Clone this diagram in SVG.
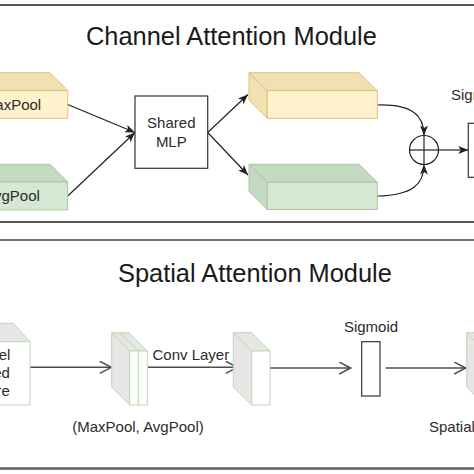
<svg xmlns="http://www.w3.org/2000/svg" width="474" height="474" viewBox="0 0 474 474">
<style>
.title{font-family:"Liberation Sans",Arial,sans-serif;font-size:25.4px;fill:#1a1a1a}
.lbl{font-family:"Liberation Sans",Arial,sans-serif;font-size:15px;fill:#2b2b2b}
.edge{fill:none;stroke:#222;stroke-width:1.2}
.edge2{fill:none;stroke:#4d4d4d;stroke-width:1.5}
.yf{fill:#fff2cc;stroke:#dcc47a;stroke-width:1}
.yd{fill:#f1e0b2;stroke:#dcc47a;stroke-width:1}
.gf{fill:#d5e8d4;stroke:#a9c99c;stroke-width:1}
.gd{fill:#c3d9c1;stroke:#a9c99c;stroke-width:1}
.wf{fill:#ffffff;stroke:#bcd9ae;stroke-width:1}
.wd{fill:#e6e6e6;stroke:#bcd9ae;stroke-width:1}
.box{fill:#ffffff;stroke:#333;stroke-width:1.2}
</style>
<defs>
<marker id="fa" markerUnits="userSpaceOnUse" markerWidth="12" markerHeight="10" refX="10" refY="4" orient="auto">
<path d="M0,0 L10,4 L0,8 L2.5,4 z" fill="#222"/>
</marker>
<marker id="oa" markerUnits="userSpaceOnUse" markerWidth="14" markerHeight="14" refX="12" refY="6.5" orient="auto">
<path d="M0.5,0.5 L12,6.5 L0.5,12.5" fill="none" stroke="#4d4d4d" stroke-width="1.5"/>
</marker>
</defs>
<rect width="474" height="474" fill="#ffffff"/>

<g id="panel-channel">
<rect x="-10" y="5" width="494" height="217" fill="#ffffff" stroke="#555" stroke-width="2"/>
<text class="title" x="86" y="45">Channel Attention Module</text>
</g>
<g id="panel-spatial">
<rect x="-10" y="240" width="494" height="228.5" fill="#ffffff" stroke="#444" stroke-width="1.5"/>
<line x1="-10" y1="468.5" x2="484" y2="468.5" stroke="#666" stroke-width="2.5"/>
<text class="title" x="118" y="281.5">Spatial Attention Module</text>
</g>

<g id="connectors">
<path class="edge" d="M67.7,104.5 L135,132.5" marker-end="url(#fa)"/>
<path class="edge" d="M67.7,196 L135,132.5" marker-end="url(#fa)"/>
<path class="edge" d="M207.7,132.5 L248,94.5" marker-end="url(#fa)"/>
<path class="edge" d="M207.7,132.5 L248,175" marker-end="url(#fa)"/>
<path class="edge" d="M377.3,105 C413,104 424,116 424,135.5" marker-end="url(#fa)"/>
<path class="edge" d="M377.3,196 C413,195 424,184 424,164.5" marker-end="url(#fa)"/>
<path class="edge" d="M438.5,150 L468.3,150" marker-end="url(#fa)"/>
<path class="edge2" d="M30,367.3 L111.3,367.3" marker-end="url(#oa)"/>
<path class="edge2" d="M148,367.3 L237.3,367.3" marker-end="url(#oa)"/>
<path class="edge2" d="M270,368 L350.7,368" marker-end="url(#oa)"/>
<path class="edge2" d="M385.7,368 L465.7,368" marker-end="url(#oa)"/>
</g>

<g id="maxpool">
<polygon class="yd" points="-56,72.7 50,72.7 67.7,90.7 -38,90.7"/>
<rect class="yf" x="-38" y="90.7" width="105.7" height="27.6"/>
<text class="lbl" x="12" y="110" text-anchor="middle">MaxPool</text>
</g>
<g id="avgpool">
<polygon class="gd" points="-56,164.3 50,164.3 67.7,182 -38,182"/>
<rect class="gf" x="-38" y="182" width="105.7" height="28"/>
<text class="lbl" x="12" y="201" text-anchor="middle">AvgPool</text>
</g>

<g id="shared-mlp">
<rect class="box" x="135" y="96" width="72.7" height="72.3"/>
<text class="lbl" x="171.3" y="127.5" text-anchor="middle">Shared</text>
<text class="lbl" x="171.3" y="146.5" text-anchor="middle">MLP</text>
</g>

<g id="mlp-out-max">
<polygon class="yd" points="249,72.7 359,72.7 377.3,90.7 267.3,90.7"/>
<polygon class="yd" points="249,72.7 267.3,90.7 267.3,118.3 249,100.3"/>
<rect class="yf" x="267.3" y="90.7" width="110" height="27.6"/>
</g>
<g id="mlp-out-avg">
<polygon class="gd" points="249,164.3 359,164.3 377.3,182.3 267.3,182.3"/>
<polygon class="gd" points="249,164.3 267.3,182.3 267.3,209.5 249,191.5"/>
<rect class="gf" x="267.3" y="182.3" width="110" height="27.2"/>
</g>

<g id="sum">
<circle cx="424" cy="150" r="14.5" fill="#ffffff" stroke="#222" stroke-width="1.2"/>
<line x1="409.5" y1="150" x2="438.5" y2="150" stroke="#222" stroke-width="1.2"/>
<line x1="424" y1="135.5" x2="424" y2="164.5" stroke="#222" stroke-width="1.2"/>
</g>

<g id="channel-sigmoid">
<text class="lbl" x="451" y="100">Sigmoid</text>
<rect class="box" x="468.3" y="123.3" width="30" height="54"/>
</g>

<g id="channel-refined">
<polygon class="wd" points="-78,323.3 13.3,323.3 30,341.7 -60,341.7"/>
<rect class="wf" x="-60" y="341.7" width="90" height="63.3"/>
<text class="lbl" x="-17.5" y="360" text-anchor="middle">Channel</text>
<text class="lbl" x="-16" y="378" text-anchor="middle">Refined</text>
<text class="lbl" x="-16" y="396" text-anchor="middle">Feature</text>
</g>

<g id="pool-maps">
<polygon class="wd" points="111.7,332.7 120,332.7 138.3,351 129.7,351"/>
<polygon class="wd" points="111.7,332.7 129.7,351 129.7,405 111.7,387"/>
<rect class="wf" x="129.7" y="351" width="8.6" height="54"/>
<polygon class="wd" points="120,332.7 129,332.7 147.3,351 138.3,351"/>
<rect class="wf" x="138.3" y="351" width="9" height="54"/>
<text class="lbl" x="138" y="431.7" text-anchor="middle">(MaxPool, AvgPool)</text>
</g>
<text class="lbl" x="152.5" y="360">Conv Layer</text>

<g id="conv-out">
<polygon class="wd" points="233.3,332.7 251.7,332.7 270,351 251.7,351"/>
<polygon class="wd" points="233.3,332.7 251.7,351 251.7,405 233.3,387"/>
<rect class="wf" x="251.7" y="351" width="18.3" height="54"/>
</g>

<g id="spatial-sigmoid">
<text class="lbl" x="371" y="331.7" text-anchor="middle">Sigmoid</text>
<rect class="box" x="361.7" y="341.7" width="18.3" height="54.3"/>
</g>

<g id="spatial-out">
<polygon class="wd" points="466.7,332.7 485,332.7 503,351 484.7,351"/>
<polygon class="wd" points="466.7,332.7 484.7,351 484.7,405 466.7,387"/>
<text class="lbl" x="429" y="431.7">Spatial</text>
</g>
</svg>
